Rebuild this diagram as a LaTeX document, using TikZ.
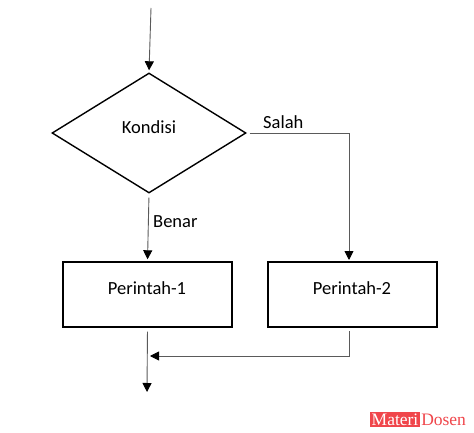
\documentclass[tikz,border=0pt]{standalone}
\usepackage{fontspec}
\setmainfont{Carlito}
\newfontfamily\wmfont{Liberation Serif}
\usetikzlibrary{shapes.geometric,arrows.meta,calc}
\definecolor{conn}{HTML}{5A5A5A}
\definecolor{wmred}{HTML}{F0464B}
\begin{document}
\begin{tikzpicture}[x=1pt,y=-1pt,
  shapeline/.style={draw=black,line width=1.4pt},
  boxst/.style={shapeline,rectangle,minimum width=169pt,minimum height=65pt,inner sep=0pt},
  condst/.style={shapeline,diamond,aspect=1.6167,minimum width=194pt,minimum height=120pt,inner sep=0pt},
  txt/.style={font=\fontsize{18.5}{22}\selectfont,inner sep=0pt},
  conn/.style={draw=conn,line width=0.9pt},
  arr/.style={conn,-{Triangle[length=9pt,width=9pt,fill=black,color=black]}},
  wmst/.style={font=\wmfont\fontsize{17.5}{20}\selectfont,anchor=west}]
\useasboundingbox (0,0) rectangle (474,433);
\fill[white] (0,0) rectangle (474,433);
\coordinate (start) at (151,8);
\node[condst] (d) at (149,133) {};
\node[txt] (tk) at (149,127) {Kondisi};
\node[boxst] (p1) at (147.5,294.5) {};
\node[txt] (t1) at (147,288) {Perintah-1};
\node[boxst] (p2) at (352.5,294.5) {};
\node[txt] (t2) at (352,288) {Perintah-2};
\coordinate (p2in) at (349,262);
\coordinate (p2out) at (349,327);
\coordinate (merge) at (150,356);
\coordinate (finish) at (147,392);
\draw[arr,shorten >=2pt] (start) -- (d.north);
\draw[arr,shorten <=3pt,shorten >=2pt] (d.east) -| (p2in);
\node[txt,anchor=base west] (ls) at (263,129) {Salah};
\draw[arr,shorten <=4pt,shorten >=2pt] (d.south) -- (p1.north);
\node[txt,anchor=base west] (lb) at (153,227) {Benar};
\draw[arr,shorten <=4pt] (p1.south) -- (finish);
\draw[arr,shorten <=4pt] (p2out) |- (merge);
\node[wmst,fill=wmred,text=white,inner xsep=1.5pt,inner ysep=2pt] (wm1) at (370,419.5) {Materi};
\node[wmst,text=wmred,inner sep=1pt] (wm2) at (wm1.east) {Dosen};
\end{tikzpicture}
\end{document}
